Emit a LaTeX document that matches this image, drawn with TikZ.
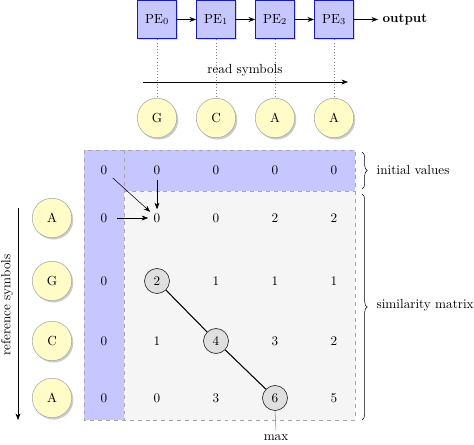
\documentclass[tikz,border=0pt]{standalone}
\usetikzlibrary{shadows,decorations.pathreplacing,arrows.meta}
\begin{document}
\begin{tikzpicture}[x=0.76pt,y=-0.76pt,
  pebox/.style={draw=blue!70!black!90,thick,fill=blue!22,minimum width=29.5pt,minimum height=29.5pt,inner sep=0pt,drop shadow={shadow xshift=1pt,shadow yshift=-1pt,opacity=0.3}},
  sym/.style={circle,draw=gray!70,fill=yellow!22,minimum size=30pt,inner sep=0pt,drop shadow={shadow xshift=1.2pt,shadow yshift=-1.4pt,opacity=0.4}},
  mx/.style={circle,draw,fill=gray!25,minimum size=19pt,inner sep=0pt},
  val/.style={inner sep=1pt},
  dotl/.style={gray,dotted},
  arr/.style={-{Stealth[length=5pt]}},
  brc/.style={decorate,decoration={brace,amplitude=4pt},thin}]
\useasboundingbox (0,0) rectangle (474,445);
% regions
\fill[blue!22] (84,150) rectangle (355,191);
\fill[blue!22] (84,191) rectangle (124,420);
\fill[gray!8] (124,191) rectangle (355,420);
\draw[gray!70,dashed] (84,150) rectangle (355,420);
\draw[gray!70,dashed] (124,150) -- (124,420);
\draw[gray!70,dashed] (124,191) -- (355,191);
% PE boxes
\foreach \i/\x in {0/157,1/216,2/275,3/334}{
  \node[pebox] (pe\i) at (\x,19.5) {PE$_\i$};
}
\node[font=\bfseries,anchor=west] (out) at (378,19.5) {output};
\draw[arr] (pe0) -- (pe1);
\draw[arr] (pe1) -- (pe2);
\draw[arr] (pe2) -- (pe3);
\draw[arr] (pe3) -- (out);
% read symbols
\foreach \i/\x/\s in {0/157/G,1/216/C,2/275/A,3/334/A}{
  \node[sym] (r\i) at (\x,118) {\s};
  \draw[dotl] (pe\i.south) -- (r\i.north);
}
\coordinate (rsa) at (143,82);
\coordinate (rsb) at (348,82);
\draw[arr] (rsa) -- (rsb);
\node (rstext) at (245,70) {read symbols};
% reference symbols
\foreach \j/\y/\s in {0/218/A,1/281/G,2/341/C,3/398/A}{
  \node[sym] (q\j) at (52,\y) {\s};
}
\coordinate (qsa) at (18,208);
\coordinate (qsb) at (18,420);
\draw[arr] (qsa) -- (qsb);
\node[rotate=90] (qstext) at (7,305) {reference symbols};
% values
\foreach \c/\x in {0/104,1/157,2/216,3/275,4/334}{
  \node[val] (v0\c) at (\x,170) {0};
}
\foreach \r/\y/\a/\b/\cc/\d/\e in {1/218/0/0/0/2/2,2/281/0/X/1/1/1,3/341/0/1/X/3/2,4/398/0/0/3/X/5}{
  \node[val] (v\r0) at (104,\y) {\a};
  \ifx X\b\else\node[val] (v\r1) at (157,\y) {\b};\fi
  \ifx X\cc\else\node[val] (v\r2) at (216,\y) {\cc};\fi
  \ifx X\d\else\node[val] (v\r3) at (275,\y) {\d};\fi
  \node[val] (v\r4) at (334,\y) {\e};
}
\node[mx] (v21) at (157,281) {2};
\node[mx] (v32) at (216,341) {4};
\node[mx] (v43) at (275,398) {6};
\draw[thick] (v21) -- (v32) -- (v43);
% arrows into cell
\draw[arr,shorten <=4pt,shorten >=2pt] (v00) -- (v11);
\draw[arr,shorten <=3pt,shorten >=2pt] (v01) -- (v11);
\draw[arr,shorten <=6pt,shorten >=3pt] (v10) -- (v11);
% max
\node (maxt) at (276,438) {max};
\draw[gray] (v43.south) -- (maxt.north);
% braces
\coordinate (b1a) at (362,152);
\coordinate (b1b) at (362,189);
\draw[brc] (b1a) -- (b1b);
\node[anchor=west] (iv) at (372,170) {initial values};
\coordinate (b2a) at (362,194);
\coordinate (b2b) at (362,420);
\draw[brc] (b2a) -- (b2b);
\node[anchor=west] (sm) at (372,305) {similarity matrix};
\end{tikzpicture}
\end{document}
